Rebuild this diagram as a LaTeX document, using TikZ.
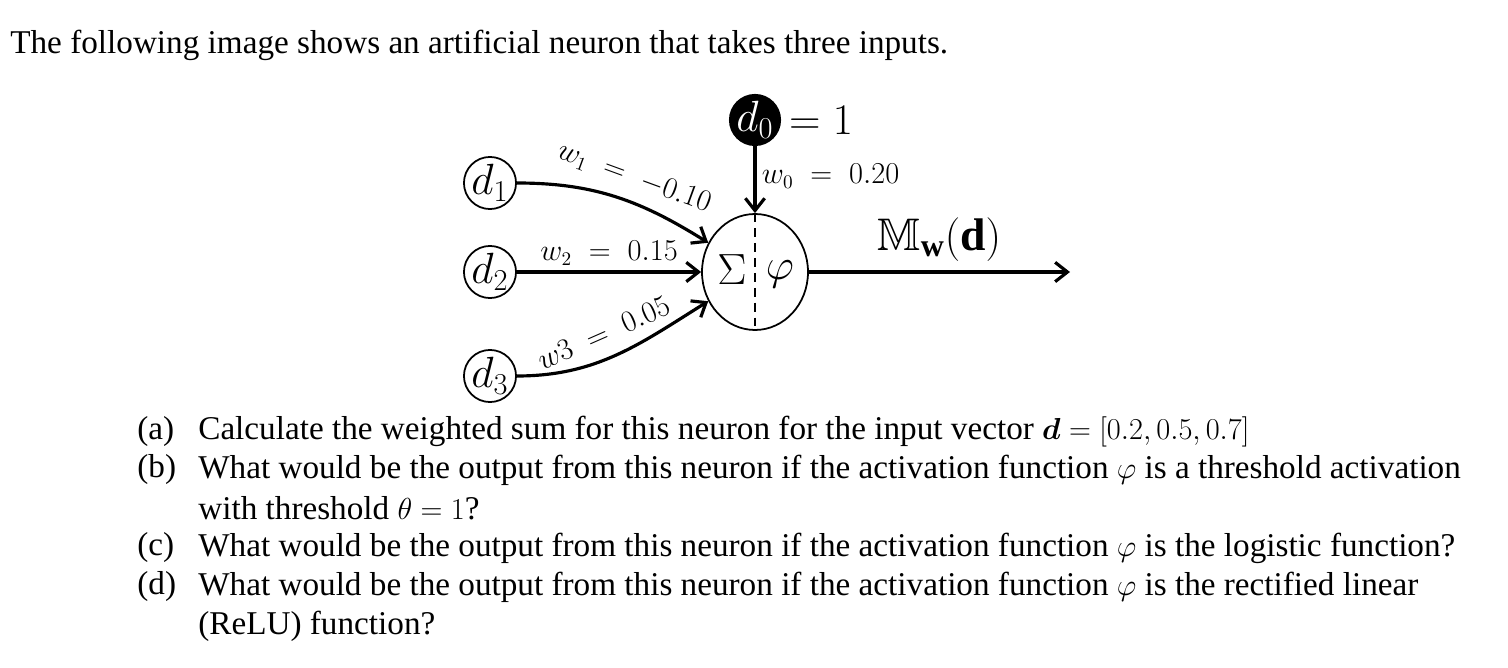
\documentclass[tikz,border=0pt]{standalone}
\usepackage{amssymb,bm}
\usepackage{fontspec}
\setmainfont{Liberation Serif}
\usetikzlibrary{shapes.geometric,arrows.meta}
\begin{document}
\begin{tikzpicture}[x=0.02cm,y=-0.02cm,
  inp/.style={circle,draw,line width=1pt,inner sep=0pt,minimum size=44\unitlength},
  txt/.style={anchor=west,inner sep=0pt,font=\fontsize{18.9}{22}\selectfont},
  wl/.style={font=\fontsize{16}{18}\selectfont,inner sep=3pt},
  conn/.style={line width=1.8pt,-{Straight Barb[length=7pt,width=11pt]}}]
\setlength{\unitlength}{0.02cm}
\useasboundingbox (0,0) rectangle (1508,668);
\node[txt] (title) at (10,45) {The following image shows an artificial neuron that takes three inputs.};
\node[ellipse,draw,line width=1pt,minimum width=106\unitlength,minimum height=116\unitlength] (n) at (755,272) {};
\node[font=\fontsize{24}{26}\selectfont] (sig) at (732,270) {$\Sigma$};
\node[font=\fontsize{24}{26}\selectfont] (phi) at (780,274) {$\varphi$};
\draw[line width=1.2pt,dash pattern=on 5pt off 3.5pt] (n.north) -- (n.south);
\node[inp,font=\fontsize{24}{26}\selectfont] (d1) at (490,183) {$d_1$};
\node[inp,font=\fontsize{24}{26}\selectfont] (d2) at (490,272) {$d_2$};
\node[inp,font=\fontsize{24}{26}\selectfont] (d3) at (490,376) {$d_3$};
\node[circle,fill=black,text=white,inner sep=0pt,minimum size=50\unitlength,font=\fontsize{26}{28}\selectfont] (d0) at (755,120) {$d_0$};
\node[anchor=west,font=\fontsize{26}{28}\selectfont] (eq1) at (783,120) {$=1$};
\draw[conn] (d0) -- (n) node[pos=0.45,right,wl]{$w_0\;=\;0.20$};
\draw[conn] (d1) to[out=0,in=148] node[sloped,above=3pt,pos=0.55,wl]{$w_1\;=\;-0.10$} (n);
\draw[conn] (d2) -- node[above,wl]{$w_2\;=\;0.15$} (n);
\draw[conn] (d3) to[out=0,in=212] node[sloped,above=5pt,pos=0.48,wl]{$w3\;=\;0.05$} (n);
\coordinate (out) at (1070,272);
\draw[conn] (n) -- node[above=2pt,pos=0.5,font=\fontsize{26}{28}\selectfont]{$\mathbb{M}_{\mathbf{w}}(\mathbf{d})$} (out);
\begin{scope}[every node/.style={txt}]
\node (la) at (137,432) {(a)};
\node (ta) at (198,432) {Calculate the weighted sum for this neuron for the input vector $\bm{d}=[0.2,0.5,0.7]$};
\node (lb) at (137,470) {(b)};
\node (tb) at (198,470) {What would be the output from this neuron if the activation function $\varphi$ is a threshold activation};
\node (tb2) at (198,508) {with threshold $\theta=1$?};
\node (lc) at (137,548) {(c)};
\node (tc) at (198,548) {What would be the output from this neuron if the activation function $\varphi$ is the logistic function?};
\node (ld) at (137,587) {(d)};
\node (td) at (198,587) {What would be the output from this neuron if the activation function $\varphi$ is the rectified linear};
\node (td2) at (198,626) {(ReLU) function?};
\end{scope}
\end{tikzpicture}
\end{document}
